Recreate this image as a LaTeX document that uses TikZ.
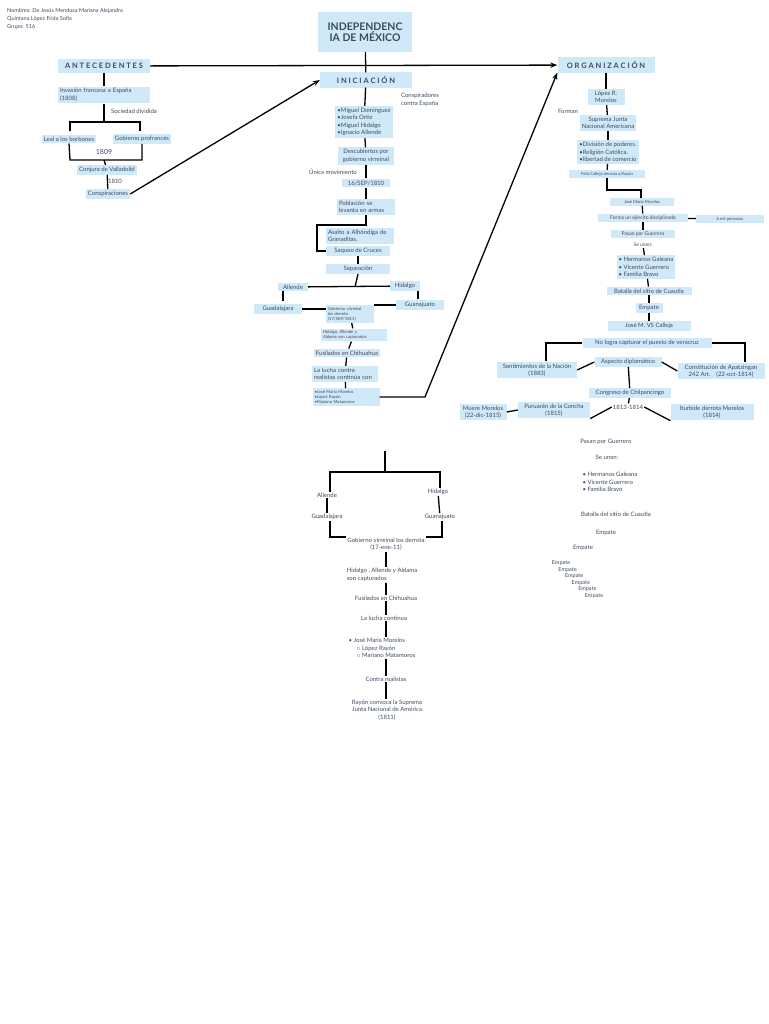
\documentclass[tikz,border=0pt]{standalone}
\usepackage{fontspec}
\setmainfont{Lato}
\usetikzlibrary{positioning, arrows.meta}
\definecolor{boxblue}{RGB}{208,233,249}
\definecolor{ink}{RGB}{62,74,98}
\tikzset{
  x=1pt, y=-1pt, % one unit is one pixel of the page
  box/.style={fill=boxblue, text=ink, font=\fontsize{6}{7.5}\selectfont, inner sep=2pt, align=center}, % light blue boxes
  tiny/.style={box, font=\fontsize{4.2}{5}\selectfont, align=left}, % boxes with very small text
  plain/.style={text=ink, font=\fontsize{6}{7.5}\selectfont, inner sep=1pt, align=center}, % text with no box
  head/.style={box, font=\bfseries\fontsize{7.5}{9}\selectfont, inner sep=4pt}, % section titles
  link/.style={line width=1.3pt, black}, % the connectors
  arr/.style={link, -{Stealth[length=7pt]}}, % connectors with a head
}
\begin{document}
\begin{tikzpicture}
    \useasboundingbox (0,0) rectangle (768,1024);

    % header and titles
    \node[plain, anchor=north west, align=left, font=\fontsize{5.5}{8}\selectfont] (names) at (6,7) {Nombres: De Jesús Mendoza Mariana Alejandra\\Quintana López Frida Sofía\\Grupo: 516};
    \node[box, minimum width=94, minimum height=40, font=\bfseries\fontsize{10.5}{11}\selectfont] (title) at (365,32) {INDEPENDENC\\IA DE MÉXICO};
    \node[head, minimum width=92] (ante) at (104,66) {A N T E C E D E N T E S};
    \node[head, minimum width=92] (inic) at (366,80) {I N I C I A C I Ó N};
    \node[head, minimum width=97] (orga) at (606,65) {O R G A N I Z A C I Ó N};

    % antecedentes
    \node[box, align=left, text width=88] (invasion) at (104,95) {Invasión francesa a España\\(1808)};
    \node[plain] (sociedad) at (134,111) {Sociedad dividida};
    \node[box] (leal) at (69,139) {Leal a los borbones};
    \node[box] (profrances) at (142,139) {Gobierno profrancés};
    \node[plain, font=\fontsize{7}{8}\selectfont] (y1809) at (104,152) {1809};
    \node[box] (conjura) at (107,170) {Conjura de Valladolid};
    \node[plain] (y1810) at (115,181) {1810};
    \node[box] (conspira) at (108,194) {Conspiraciones};

    % iniciacion
    \node[plain, align=left] (conspiradores) at (420,100) {Conspiradores\\contra España};
    \node[box, align=left] (nombres) at (364,122) {•Miguel Domínguez\\•Josefa Ortiz\\•Miguel Hidalgo\\•Ignacio Allende};
    \node[box, minimum width=56] (descubiertos) at (366,156) {Descubiertos por\\gobierno virreinal};
    \node[plain] (unica) at (333,172) {Única movimiento};
    \node[box, minimum width=48] (sep1810) at (366,183) {16/SEP/1810};
    \node[box, align=left, text width=54] (poblacion) at (366,207) {Población se\\levanta en armas};
    \node[box, align=left, text width=64] (asalto) at (360,236) {Asalto a Alhóndiga de\\Granaditas.};
    \node[box, minimum width=64] (saqueo) at (358,251) {Saqueo de Cruces};
    \node[box, minimum width=64] (separa) at (358,269) {Separación};
    \node[box, minimum width=30] (allende) at (293,287) {Allende};
    \node[box, minimum width=30] (hidalgo) at (405,286) {Hidalgo};
    \node[box, minimum width=48] (guadala) at (278,309) {Guadalajara};
    \node[box, minimum width=48] (guanaj) at (420,305) {Guanajuato};
    \node[tiny, text width=44] (derrota) at (350,314) {Gobierno virreinal\\los derrota\\(17/SEP/1811)};
    \node[tiny, text width=62] (capturados) at (354,335) {Hidalgo, Allende y\\Aldama son capturados};
    \node[box, minimum width=66] (fusilados) at (347,353) {Fusilados en Chihuahua};
    \node[box, align=left, text width=62] (lucha) at (345,374) {La lucha contra\\realistas continúa con};
    \node[tiny, text width=63] (lista) at (346,397) {•José María Morelos\\•López Rayón\\•Mariano Matamoros};

    % organizacion
    \node[box, minimum width=37] (lopez) at (606,97) {López R.\\Morelos};
    \node[plain] (forman) at (568,111) {Forman};
    \node[box] (suprema) at (608,123) {Suprema Junta\\Nacional Americana};
    \node[box, align=left] (division) at (608,152) {•División de poderes.\\•Religión Católica.\\•libertad de comercio};
    \node[tiny, minimum width=76] (feliz) at (607,174) {Feliz Calleja derrota a Rayón};
    \node[tiny, minimum width=64] (jmm) at (642,202) {José María Morelos};
    \node[tiny, minimum width=90, font=\fontsize{5}{6}\selectfont] (ejercito) at (643,218) {Forma un ejército disciplinado};
    \node[tiny, minimum width=68] (seismil) at (730,219) {6 mil personas};
    \node[tiny, minimum width=64, font=\fontsize{5}{6}\selectfont] (pasan) at (643,234) {Pasan por Guerrero};
    \node[plain, font=\fontsize{5}{6}\selectfont] (seunen) at (643,245) {Se unen:};
    \node[box, align=left] (unidos) at (646,267) {•\ Hermanos Galeana\\•\ Vicente Guerrero\\•\ Familia Bravo};
    \node[box, minimum width=85] (batalla) at (649,291) {Batalla del sitio de Cuautla};
    \node[box, minimum width=27] (empate) at (649,308) {Empate};
    \node[box, minimum width=83] (vs) at (649,326) {José M. VS Calleja};
    \node[box, minimum width=129] (nologra) at (647,343) {No logra capturar el puesto de veracruz};
    \node[box, minimum width=80] (sentim) at (537,370) {Sentimientos de la Nación\\(1883)};
    \node[box, minimum width=67] (aspecto) at (628,362) {Aspecto diplomático};
    \node[box, minimum width=87] (constit) at (721,371) {Constitución de Apatzingan\\242 Art.\quad(22-oct-1814)};
    \node[box, minimum width=82] (congreso) at (630,393) {Congreso de Chilpancingo};
    \node[plain] (y1813) at (628,407) {1813-1814};
    \node[box, minimum width=72] (puruaran) at (554,410) {Puruarán de la Concha\\(1815)};
    \node[box, minimum width=47] (muere) at (483,412) {Muere Morelos\\(22-dic-1815)};
    \node[box, minimum width=83] (iturbide) at (712,412) {Iturbide derrota Morelos\\(1814)};

    % parte baja, centro
    \coordinate (top) at (385,451);
    \node[plain] (allende2) at (327,495) {Allende};
    \node[plain] (hidalgo2) at (438,492) {Hidalgo};
    \node[plain] (guadala2) at (327,517) {Guadalajara};
    \node[plain] (guanaj2) at (440,517) {Guanajuato};
    \node[plain] (derrota2) at (386,544) {Gobierno virreinal los derrota\\(17-ene-11)};
    \node[plain, align=left] (capt2) at (382,575) {Hidalgo , Allende y Aldama\\son capturados};
    \node[plain] (fusil2) at (386,598) {Fusilados en Chihuahua};
    \node[plain] (lucha2) at (384,618) {La lucha continua};
    \node[plain, align=left] (lista2) at (382,648) {•\ José María Morelos\\\hspace{8pt}$\circ$\ López Rayón\\\hspace{8pt}$\circ$\ Mariano Matamoros};
    \node[plain] (contra2) at (386,679) {Contra realistas};
    \node[plain] (rayon2) at (387,710) {Rayón convoca la Suprema\\Junta Nacional de América\\(1811)};

    % parte baja, derecha
    \node[plain] (pasan2) at (606,442) {Pasan por Guerrero};
    \node[plain] (seunen2) at (607,457) {Se unen:};
    \node[plain, align=left] (unidos2) at (610,482) {•\ Hermanos Galeana\\•\ Vicente Guerrero\\•\ Familia Bravo};
    \node[plain] (batalla2) at (616,514) {Batalla del sitio de Cuautla};
    \node[plain] (empa) at (606,533) {Empate};
    \node[plain] (empb) at (583,548) {Empate};
    \foreach \i in {0,...,5}
      \node[plain, font=\fontsize{5.5}{6}\selectfont] (emp\i) at (561+6.6*\i,563+6.6*\i) {Empate};

    % connectors
    \draw[link] (title) -- (inic);
    \draw[arr] (ante) -- (orga);
    \draw[arr] (conspira.east) -- (inic.west);
    \draw[arr] (lista.east) -- (425,397) -- (orga.south west);

    \draw[link] (ante) -- (invasion);
    \draw[link] (invasion) -- (104,122);
    \draw[link] (70,131) -- (70,122) -- (140,122) -- (140,131);
    \draw[link] (leal.south) -- (70,160) -- (142,160) -- (profrances.south);
    \draw[link] (104,160) -- (conjura);
    \draw[link] (conjura) -- (conspira);

    \draw[link] (inic) -- (nombres);
    \draw[link] (nombres) -- (descubiertos);
    \draw[link] (descubiertos) -- (sep1810);
    \draw[link] (sep1810) -- (poblacion);
    \draw[link] (poblacion.south) -- (366,225) -- (317,225) -- (317,251) -- (saqueo.west);
    \draw[link] (saqueo) -- (separa);
    \draw[link] (separa.south) -- (355,287);
    \draw[link] (allende) -- (hidalgo);
    \draw[link] (allende.south -| 283,0) -- (283,301);
    \draw[link] (hidalgo.south -| 418,0) -- (418,299);
    \draw[link] (guadala) -- (derrota.west |- guadala);
    \draw[link] (guanaj) -- (derrota.east |- guanaj);
    \draw[link] (derrota) -- (capturados);
    \draw[link] (capturados) -- (fusilados);
    \draw[link] (fusilados) -- (lucha);
    \draw[link] (lucha) -- (lista);

    \draw[link] (orga) -- (lopez);
    \draw[link] (lopez) -- (suprema);
    \draw[link] (suprema) -- (division);
    \draw[link] (division) -- (feliz);
    \draw[link] (feliz.south) -- (607,190) -- (641,190) -- (jmm.north -| 641,0);
    \draw[link] (jmm) -- (ejercito);
    \draw[link] (ejercito) -- (seismil);
    \draw[link] (ejercito) -- (pasan);
    \draw[link] (seunen) -- (unidos);
    \draw[link] (unidos) -- (batalla);
    \draw[link] (batalla) -- (empate);
    \draw[link] (empate) -- (vs);
    \draw[link] (nologra.west) -- (546,343) -- (sentim.north -| 546,0);
    \draw[link] (nologra.east) -- (745,343) -- (constit.north -| 745,0);
    \draw[link] (sentim.east) -- (aspecto.west);
    \draw[link] (aspecto.east) -- (constit.west);
    \draw[link] (aspecto) -- (congreso);
    \draw[link] (congreso) -- (y1813);
    \draw[link] (y1813.west) -- (puruaran.south east);
    \draw[link] (y1813.east) -- (iturbide.south west);
    \draw[link] (puruaran.west) -- (muere.east);

    \draw[link] (top) -- (385,472);
    \draw[link] (allende2.north -| 330,0) -- (330,472) -- (440,472) -- (hidalgo2.north -| 440,0);
    \draw[link] (allende2) -- (guadala2);
    \draw[link] (hidalgo2) -- (guanaj2);
    \draw[link] (guadala2.south -| 330,0) -- (330,537) -- (derrota2.west |- 0,537);
    \draw[link] (guanaj2.south -| 442,0) -- (442,537) -- (derrota2.east |- 0,537);
    \draw[link] (derrota2) -- (capt2.north -| derrota2);
    \draw[link] (capt2.south -| derrota2) -- (fusil2);
    \draw[link] (fusil2) -- (lucha2.north -| fusil2);
    \draw[link] (lucha2.south -| fusil2) -- (lista2.north -| fusil2);
    \draw[link] (lista2.south -| fusil2) -- (contra2);
    \draw[link] (contra2) -- (rayon2.north -| contra2);
\end{tikzpicture}
\end{document}
